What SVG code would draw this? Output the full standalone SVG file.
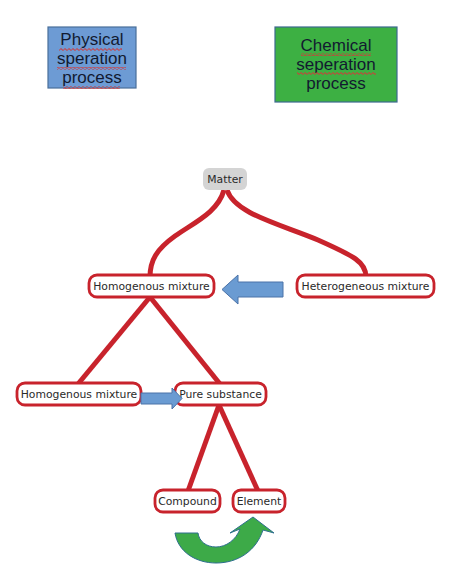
<svg xmlns="http://www.w3.org/2000/svg" width="474" height="586" viewBox="0 0 474 586">
<defs>
<pattern id="wave" width="4" height="3" patternUnits="userSpaceOnUse">
<path d="M0,1.5 Q1,0 2,1.5 T4,1.5" fill="none" stroke="#d03a3a" stroke-width="1.1"/>
</pattern>
</defs>
<style>
.proc{font-family:"Liberation Sans",Arial,sans-serif;font-size:17px;fill:#121a30;text-anchor:middle}
.node rect{fill:#fff;stroke:#c8232c;stroke-width:2.8}
.lbl{font-family:"DejaVu Sans",sans-serif;font-size:10.8px;fill:#2a2a2a;text-anchor:middle}
.conn{fill:none;stroke:#c8232c;stroke-width:5;stroke-linecap:butt}
.barrow{fill:#6a9bd2;stroke:#4a72a8;stroke-width:1}
</style>
<rect width="474" height="586" fill="#fff"/>

<g id="physical">
<rect x="48" y="27" width="88" height="61" fill="#6d9bd4" stroke="#4a6f9a" stroke-width="1.2"/>
<text class="proc" x="92" y="45">Physical</text>
<text class="proc" x="92" y="64">speration</text>
<text class="proc" x="92" y="83">process</text>
<rect x="59" y="48" width="63" height="3" fill="url(#wave)"/>
<rect x="57" y="67" width="69" height="3" fill="url(#wave)"/>
<rect x="63" y="86" width="57" height="3" fill="url(#wave)"/>
</g>

<g id="chemical">
<rect x="275" y="27" width="122" height="75" fill="#3db043" stroke="#3d6a8f" stroke-width="1.2"/>
<text class="proc" x="336" y="51">Chemical</text>
<text class="proc" x="336" y="70">seperation</text>
<text class="proc" x="336" y="89">process</text>
<rect x="301" y="53" width="70" height="3" fill="url(#wave)"/>
<rect x="297" y="72" width="79" height="3" fill="url(#wave)"/>
</g>

<g id="connectors">
<path class="conn" d="M224,190 C218,212 195,222 175,236 C157,249 150,260 150,277"/>
<path class="conn" d="M227,190 C235,214 280,224 318,240 C354,256 366,262 366,277"/>
<path class="conn" d="M150,297 L78,384"/>
<path class="conn" d="M150,297 L220,384"/>
<path class="conn" d="M219,405 L188,491"/>
<path class="conn" d="M219,405 L258,491"/>
</g>

<g id="matter">
<rect x="203" y="168" width="44" height="22" rx="6" fill="#d4d4d4"/>
<text class="lbl" x="225" y="183">Matter</text>
</g>

<g id="homogenous-top" class="node">
<rect x="89" y="275" width="125" height="22" rx="8"/>
<text class="lbl" x="151.5" y="290">Homogenous mixture</text>
</g>

<g id="heterogeneous" class="node">
<rect x="297" y="275" width="137" height="22" rx="8"/>
<text class="lbl" x="365.5" y="290">Heterogeneous mixture</text>
</g>

<g id="homogenous-left" class="node">
<rect x="17" y="383" width="124" height="22" rx="8"/>
<text class="lbl" x="79" y="398">Homogenous mixture</text>
</g>

<g id="pure" class="node">
<rect x="175" y="383" width="91" height="22" rx="8"/>
<text class="lbl" x="220.5" y="398">Pure substance</text>
</g>

<g id="compound" class="node">
<rect x="155" y="490" width="65" height="22" rx="8"/>
<text class="lbl" x="187.5" y="505">Compound</text>
</g>

<g id="element" class="node">
<rect x="233" y="490" width="52" height="22" rx="8"/>
<text class="lbl" x="259" y="505">Element</text>
</g>

<g id="arrows">
<path class="barrow" d="M283,282 L238,282 L238,275 L222,289.5 L238,304 L238,297 L283,297 Z"/>
<path class="barrow" d="M141,393 L172,393 L172,388 L182,398.5 L172,409 L172,404 L141,404 Z"/>
<path d="M175,533 C178,552 196,563 216,563 C238,563 256,551 263,530 L274,533 L253,517 L230,533 L240,529 C236,540 226,547 216,547 C206,547 199,541 198,533 Z" fill="#3daa48" stroke="#2e6f8e" stroke-width="1"/>
</g>
</svg>
